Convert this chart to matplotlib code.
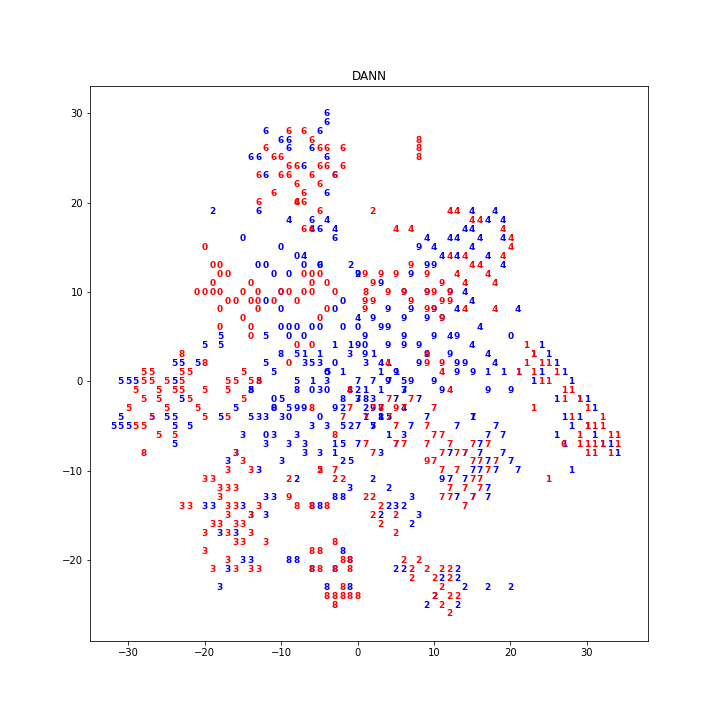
import matplotlib
matplotlib.use("Agg")
import matplotlib.pyplot as plt

title = "DANN"
red = {
 "6": [(-9,28),(-7,28),(-6,27),(-5,26),(-4,26),(-12,26),(-11,25),(-10,25),(-9,24),(-8,24),(-10,23),(-9,23),(-8,22),(-5,24),(-4,24),(-6,23),(-3,23),(-5,22),(-7,21),(-8,20),(-13,23),(-11,21),(-13,20),(-7,20),(-5,19),(-2,26),(-2,24),(-6,17),(-7,17),(27,-7)],
 "8": [(8,27),(8,26),(8,25),(-23,3),(-20,2),(-28,-8),(-13,0),(-6,-3),(-8,-14),(-6,-14),(-4,-14),(-6,-19),(-5,-19),(-3,-18),(-2,-20),(-1,-20),(-1,-21),(-6,-21),(-5,-21),(-3,-21),(-2,-24),(-1,-24),(-3,-24),(-3,-25),(-2,-23),(-4,-24),(0,-24),(1,10),(-1,-1),(3,-3),(-3,-6)],
 "4": [(-8,20),(5,17),(7,17),(12,19),(13,19),(15,18),(16,18),(19,17),(20,16),(20,15),(14,14),(15,13),(16,13),(13,12),(14,11),(12,14),(17,12),(18,11),(19,14),(14,8),(18,8),(9,3),(11,1),(4,2),(12,-1)],
 "9": [(1,12),(2,11),(3,12),(5,12),(7,13),(1,9),(1,8),(2,9),(4,10),(6,10),(7,9),(9,10),(10,10),(11,9),(10,8),(11,11),(12,10),(12,9),(11,7),(9,8),(9,12),(11,2),(9,-9),(-9,-13),(5,-3),(9,2)],
 "0": [(-20,15),(-19,13),(-18,12),(-19,11),(-20,10),(-21,10),(-18,10),(-17,9),(-16,9),(-18,8),(-18,6),(-15,10),(-14,11),(-13,10),(-14,9),(-15,7),(-14,6),(-13,8),(-14,5),(-7,12),(-6,12),(-6,11),(-4,11),(-5,12),(-9,10),(-8,9),(-7,10),(-6,10),(-3,10),(-4,8),(-5,7),(-8,4),(-6,4),(-9,2),(-18,13),(-17,12),(-19,10),(-13,9),(-11,9),(-10,10)],
 "1": [(22,4),(23,3),(24,2),(22,2),(23,1),(25,2),(26,1),(24,0),(21,1),(25,0),(27,-1),(29,-2),(30,-3),(28,-4),(30,-5),(32,-4),(32,-5),(33,-6),(30,-7),(31,-7),(34,-6),(33,-8),(32,-7),(31,-8),(29,-6),(30,-8),(34,-7),(23,-3),(25,-11),(29,-7),(31,-5),(27,-2),(28,-1)],
 "3": [(-16,-8),(-17,-10),(-15,-9),(-14,-10),(-20,-11),(-19,-11),(-18,-12),(-17,-12),(-16,-12),(-18,-13),(-17,-14),(-16,-14),(-17,-15),(-16,-16),(-15,-16),(-17,-17),(-18,-16),(-14,-15),(-13,-14),(-16,-18),(-15,-18),(-20,-19),(-23,-14),(-17,-20),(-20,-17),(-19,-21),(-16,-21),(-14,-21),(-13,-21),(-22,-14),(-14,-17),(-19,-16),(-12,-18)],
 "5": [(-30,-3),(-29,-1),(-28,0),(-27,0),(-26,-1),(-25,0),(-24,-1),(-23,-1),(-22,-2),(-26,-2),(-28,-2),(-27,-4),(-28,-5),(-29,-5),(-25,-3),(-24,-6),(-26,-6),(-20,-1),(-21,-3),(-23,0),(-20,-4),(-17,-4),(-15,-2),(-17,0),(-16,0),(-14,0),(-15,1),(-22,1),(-23,1),(-28,1),(-27,1),(-5,-10),(-17,-1)],
 "7": [(-2,-4),(-1,-3),(1,-4),(2,-3),(4,-2),(4,-4),(5,-5),(6,-3),(6,-7),(2,-8),(1,-7),(10,-3),(9,-5),(11,-6),(12,-7),(11,-8),(13,-8),(14,-8),(13,-10),(15,-7),(15,-9),(16,-9),(18,-9),(17,-10),(15,-11),(14,-12),(12,-12),(15,-13),(11,-13),(14,-14),(16,-12),(10,-9),(9,-7),(10,-6),(-3,-10),(7,-2),(5,-7),(11,-10),(12,-13),(16,-11),(17,-7)],
 "2": [(-9,-11),(-5,-10),(-3,-11),(-2,-11),(1,-13),(3,-14),(2,-15),(3,-16),(5,-15),(5,-17),(6,-20),(7,-21),(7,-22),(8,-20),(9,-21),(10,-22),(11,-21),(12,-21),(11,-23),(11,-25),(12,-26),(10,-24),(12,-24),(13,-24),(12,-22),(2,19),(2,-13)],
}
blue = {
 "6": [(-4,30),(-4,29),(-12,28),(-10,27),(-9,27),(-5,28),(-4,25),(-6,26),(-14,25),(-13,25),(-12,23),(-7,24),(-9,26),(-4,21),(-3,23),(-6,18),(-5,17),(-3,16),(-13,19),(-5,13)],
 "2": [(-19,19),(-1,13),(0,12),(2,-11),(3,-15),(4,-12),(4,-14),(6,-14),(7,-16),(5,-21),(6,-21),(10,-24),(11,-22),(13,-22),(14,-23),(13,-25),(17,-23),(20,-23),(9,-25),(13,-21),(0,-1),(1,-3),(-2,-9),(-8,-11),(-1,-5),(-2,-3)],
 "4": [(15,19),(18,19),(17,18),(19,18),(14,17),(15,17),(13,16),(12,16),(16,16),(11,14),(9,16),(10,15),(13,14),(15,15),(17,14),(19,13),(19,16),(14,10),(15,9),(21,8),(13,8),(16,6),(12,5),(15,4),(17,3),(18,2),(-9,18),(-6,17),(-7,14),(0,7),(-4,18),(-3,17),(6,-3),(-1,-1),(3,2)],
 "9": [(0,12),(3,11),(6,10),(7,12),(8,15),(9,13),(10,13),(9,10),(12,10),(10,8),(11,7),(9,7),(7,8),(4,6),(6,7),(4,8),(2,7),(1,5),(3,6),(0,4),(1,3),(6,5),(8,4),(10,5),(8,2),(9,3),(12,3),(13,2),(7,0),(10,0),(11,-1),(13,5),(13,1),(15,1),(17,-1),(20,-1),(-3,-3),(-7,-3),(-8,-3),(5,1),(6,4),(4,4),(14,2),(11,-11),(4,0),(2,-3)],
 "0": [(-15,16),(-10,15),(-8,14),(-7,13),(-5,13),(-12,13),(-13,13),(-11,12),(-9,12),(-10,10),(-12,9),(-10,8),(-9,6),(-9,5),(-8,6),(-7,5),(-6,6),(-10,6),(-2,9),(-3,8),(-5,6),(-2,6),(1,4),(-4,1),(-3,2),(-4,-1),(-6,-1),(-11,-2),(-9,-4),(-12,-6),(-11,-3),(-5,-4),(20,5),(0,6)],
 "1": [(-3,4),(-1,4),(2,3),(3,1),(4,2),(5,1),(-7,3),(-5,3),(-2,1),(1,-1),(-6,0),(3,-1),(4,-6),(-3,-7),(-3,-8),(3,-4),(1,-4),(17,1),(19,1),(15,-4),(21,1),(23,3),(24,4),(25,3),(26,2),(27,1),(28,0),(29,-2),(30,-2),(31,-3),(26,-2),(24,1),(23,0),(27,-4),(28,-5),(30,-5),(31,-6),(32,-7),(33,-7),(34,-8),(29,-4),(27,-7),(26,-6),(28,-10)],
 "3": [(-1,3),(1,2),(-5,2),(-7,2),(-4,0),(-5,-1),(0,-2),(2,-2),(-13,-4),(-12,-4),(-10,-4),(-11,-6),(-9,-7),(-7,-7),(-8,-6),(-7,-8),(-12,-7),(-6,-5),(-4,-5),(-5,-8),(-15,-6),(-17,-9),(-16,-8),(-13,-10),(-12,-13),(-11,-13),(-19,-14),(-14,-15),(-15,-14),(-12,-15),(-17,-21),(-18,-23),(-15,-20),(-14,-20),(-16,-17),(-18,-17),(-20,-14),(-10,-9),(-1,-12),(3,-8),(5,-14),(7,-13),(6,-6),(8,-15),(6,-1)],
 "5": [(-31,0),(-30,0),(-29,0),(-31,-4),(-30,-5),(-32,-5),(-31,-5),(-27,-4),(-25,-4),(-24,-4),(-23,-2),(-24,-5),(-22,-5),(-24,0),(-24,2),(-23,2),(-21,2),(-20,4),(-18,4),(-18,5),(-18,-4),(-16,-3),(-14,-4),(-13,0),(-14,-1),(-10,-2),(-9,-3),(-8,0),(-12,2),(-11,1),(-8,3),(-6,2),(-4,1),(-12,5),(-2,-5),(2,-5),(-1,-9),(-24,-7),(6,0),(4,-4),(-2,-7)],
 "8": [(-9,-20),(-8,-20),(-6,-14),(-5,-14),(-3,-13),(-2,-13),(-4,-23),(-1,-23),(-1,-20),(-2,-19),(-3,-21),(-6,-21),(-14,-1),(-10,3),(-8,-1),(-2,-2),(1,-2),(3,-4),(-11,-3)],
 "7": [(0,0),(2,0),(4,0),(6,-1),(3,-3),(1,-4),(0,-5),(0,-7),(5,-7),(8,-2),(9,-4),(7,-5),(13,-5),(15,-4),(14,-8),(16,-7),(17,-6),(18,-5),(19,-8),(18,-10),(16,-10),(17,-12),(14,-11),(12,-11),(13,-13),(15,-13),(17,-13),(20,-9),(21,-10),(19,-6),(16,-8),(2,-5),(0,-2),(5,-2),(12,-8),(17,-9),(15,-10)],
}

fig, ax = plt.subplots(figsize=(10, 10), dpi=72)
for color, groups in (("blue", blue), ("red", red)):
    for digit, pts in groups.items():
        for x, y in pts:
            ax.text(x, y, digit, color=color, fontsize=9, fontweight="bold",
                    ha="center", va="center")
ax.set_xlim(-35, 38)
ax.set_ylim(-29, 33)
ax.set_title(title)
fig.savefig("out.png")
